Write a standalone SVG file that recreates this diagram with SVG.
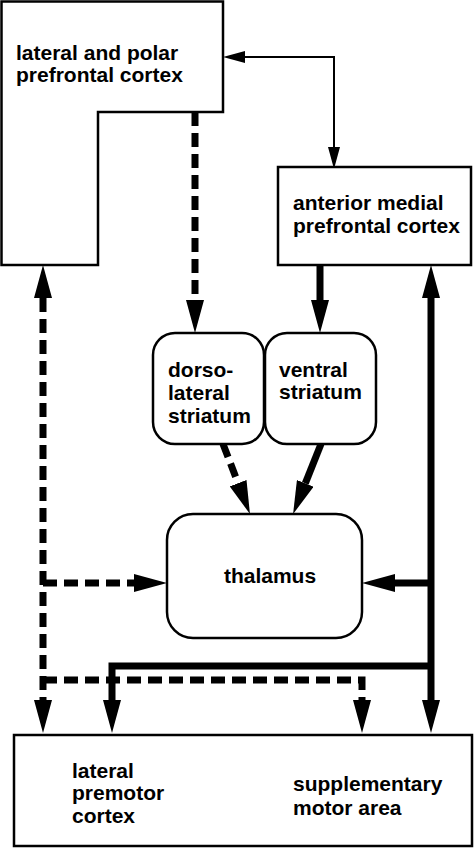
<svg xmlns="http://www.w3.org/2000/svg" width="474" height="848" viewBox="0 0 474 848">
<style>
.box{fill:#fff;stroke:#000;stroke-width:2.5}
.lbl{font-family:"Liberation Sans",Arial,sans-serif;font-weight:bold;font-size:21px;fill:#000}
.thin{fill:none;stroke:#000;stroke-width:2}
.thick{fill:none;stroke:#000;stroke-width:7}
.dash{fill:none;stroke:#000;stroke-width:7;stroke-dasharray:14 7}
</style>
<defs>
<marker id="big" markerUnits="userSpaceOnUse" markerWidth="33" markerHeight="18" viewBox="0 0 33 18" refX="0" refY="9" orient="auto-start-reverse"><path d="M0,0 L33,9 L0,18 z" fill="#000"/></marker>
<marker id="small" markerUnits="userSpaceOnUse" markerWidth="22" markerHeight="12" viewBox="0 0 22 12" refX="0" refY="6" orient="auto-start-reverse"><path d="M0,0 L22,6 L0,12 z" fill="#000"/></marker>
</defs>
<rect width="474" height="848" fill="#fff"/>
<g id="connectors">
<path class="thin" d="M245,57 H334 V147" marker-start="url(#small)" marker-end="url(#small)"/>
<path class="dash" d="M195,112 V300" marker-end="url(#big)"/>
<path class="thick" d="M320,265 V300" marker-end="url(#big)"/>
<path class="dash" d="M223,444 L238.1,483.2" marker-end="url(#big)"/>
<path class="thick" d="M321,444 L305.3,483.4" marker-end="url(#big)"/>
<path class="dash" d="M43,298 V700" marker-start="url(#big)" marker-end="url(#big)"/>
<path class="dash" d="M43,583 H134" marker-end="url(#big)"/>
<path class="dash" d="M43,680 H362 V700" marker-end="url(#big)"/>
<path class="thick" d="M431,298 V700" marker-start="url(#big)" marker-end="url(#big)"/>
<path class="thick" d="M431,583 H395" marker-end="url(#big)"/>
<path class="thick" d="M431,666 H112 V700" marker-end="url(#big)"/>
</g>
<g id="lateral-polar-pfc">
<polygon class="box" points="1.5,1.5 223,1.5 223,112 98,112 98,265 1.5,265"/>
<text class="lbl" x="16" y="60">lateral and polar</text>
<text class="lbl" x="16" y="82">prefrontal cortex</text>
</g>
<g id="anterior-medial-pfc">
<rect class="box" x="278" y="167" width="193" height="98"/>
<text class="lbl" x="293" y="210">anterior medial</text>
<text class="lbl" x="293" y="233">prefrontal cortex</text>
</g>
<g id="dorsolateral-striatum">
<rect class="box" x="153" y="333" width="111" height="111" rx="22"/>
<text class="lbl" x="168" y="377">dorso-</text>
<text class="lbl" x="168" y="400">lateral</text>
<text class="lbl" x="168" y="423">striatum</text>
</g>
<g id="ventral-striatum">
<rect class="box" x="265" y="333" width="111" height="111" rx="22"/>
<text class="lbl" x="279" y="377">ventral</text>
<text class="lbl" x="279" y="399">striatum</text>
</g>
<g id="thalamus">
<rect class="box" x="167" y="514" width="195" height="124" rx="26"/>
<text class="lbl" x="270" y="583" text-anchor="middle">thalamus</text>
</g>
<g id="motor">
<rect class="box" x="14" y="735" width="458" height="111"/>
<text class="lbl" x="72" y="778">lateral</text>
<text class="lbl" x="72" y="800">premotor</text>
<text class="lbl" x="72" y="823">cortex</text>
<text class="lbl" x="293" y="791">supplementary</text>
<text class="lbl" x="293" y="815">motor area</text>
</g>
</svg>
